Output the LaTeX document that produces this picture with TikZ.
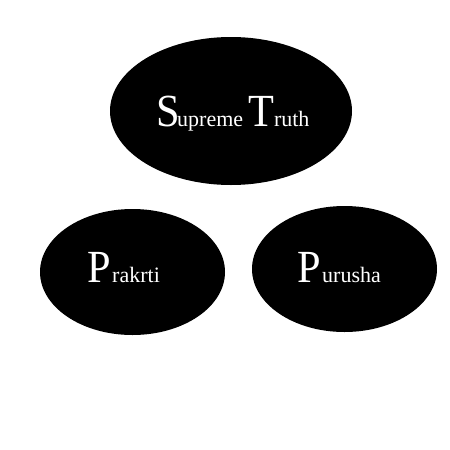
\documentclass[tikz,border=0pt]{standalone}
\usepackage{fontspec}
\usepackage{graphicx}
\setmainfont{Liberation Serif}
\usetikzlibrary{shapes.geometric}
\tikzset{
  blob/.style={ellipse, fill=black, draw=none, inner sep=0pt},
  lbl/.style={text=white, anchor=base west, inner sep=0pt},
}
\newcommand{\ovlBig}[1]{\scalebox{0.92}[1]{\fontsize{46}{46}\selectfont #1}}
\newcommand{\ovlSml}[1]{{\fontsize{22}{22}\selectfont #1}}
\begin{document}
\begin{tikzpicture}[x=1pt,y=-1pt]
\useasboundingbox (0,0) rectangle (450,450);
\node[blob, minimum width=242pt, minimum height=148pt] (top) at (231,111) {};
\node[blob, minimum width=185pt, minimum height=126pt] (left) at (132.5,272) {};
\node[blob, minimum width=185pt, minimum height=126pt] (right) at (344.5,269) {};
\node[lbl] (toptext) at (156,126) {\ovlBig{S}\kern-2.5pt\ovlSml{upreme}\hspace{5pt}\ovlBig{T}\ovlSml{ruth}};
\node[lbl] (lefttext) at (87.5,282) {\ovlBig{P}\kern1pt\ovlSml{rakrti}};
\node[lbl] (righttext) at (297.5,282) {\ovlBig{P}\kern1pt\ovlSml{urusha}};
\end{tikzpicture}
\end{document}
